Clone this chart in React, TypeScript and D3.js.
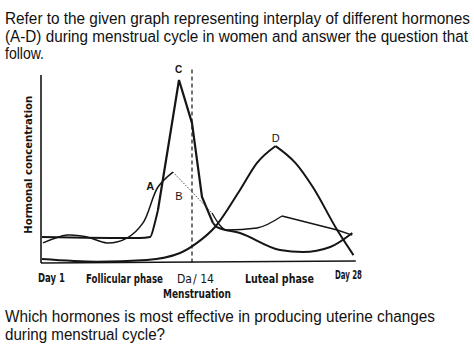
import React from "react";
import * as d3 from "d3";

// ---- Data (day, relative concentration) ----
const hormoneA: [number, number][] = [
  [1.17, 10.2], [3.24, 14.4], [4.96, 13.4], [6.68, 10.2], [8.4, 12.8],
  [9.78, 20.9], [11.07, 40.1], [12.36, 48.1],
];
const hormoneBDotted: [number, number][] = [
  [12.36, 48.1], [14.09, 36.9], [15.72, 26.2],
];
const hormoneBSolid: [number, number][] = [
  [15.72, 26.2], [17.0, 17.1], [19.6, 18.2], [21.75, 24.6],
];
const hormoneBTail: [number, number][] = [
  [21.75, 24.6], [26.5, 17.1], [27.8, 14.4],
];
const hormoneCFlat: [number, number][] = [
  [1.09, 13.4], [9.5, 12.8], [10.4, 13.4], [10.8, 20.9], [11.07, 27.8],
];
const hormoneCPeak: [number, number][] = [
  [11.07, 27.8], [12.88, 97.3], [14.0, 74.3], [14.86, 34.8], [15.8, 20.9],
];
const hormoneCTail: [number, number][] = [
  [15.8, 20.9], [16.15, 18.7], [18.13, 15.5], [21.58, 6.4], [23.56, 5.3],
  [25.9, 8.0], [27.8, 15.5],
];
const hormoneDRise: [number, number][] = [
  [1.09, 1.6], [5.8, 0.2], [10.1, 1.1], [12.97, 4.8], [14.43, 10.2],
  [15.98, 18.7], [18.13, 38.5], [19.6, 53], [21.2, 62.0],
];
const hormoneDFall: [number, number][] = [
  [21.2, 62.0], [22.9, 53], [24.4, 40.1], [26.5, 17.1], [27.9, 3.7],
];

// x labels: text, starting day, value (vertical position in data units)
const dayLabels = ["Day 1", "Follicular phase", "Da\u200a/ 14", "Luteal phase", "Day 28", "Menstruation"];
const dayLabelStart = [0.74, 4.87, 12.71, 18.56, 26.31, 11.5];
const dayLabelValue = [-10.7, -11.2, -11.2, -11.2, -9.1, -19.3];

const curveNames = ["C", "D", "A", "B"];
const curveNameDay = [12.85, 21.2, 10.4, 12.88];
const curveNameValue = [101, 64.2, 38.5, 33.2];
const curveNameWeight = [700, 400, 700, 400];

const titleLines = [
  "Refer to the given graph representing interplay of different hormones",
  "(A-D) during menstrual cycle in women and answer the question that",
  "follow.",
];
const questionLines = [
  "Which hormones is most effective in producing uterine changes",
  "during menstrual cycle?",
];

const W = 474;
const H = 348;
const titleWidths = [465, 463, 39];
const questionWidths = [430, 160];
const dayLabelWidths = [27, 77, 37, 69, 27, 68];

export default function App() {
  const x = d3.scaleLinear().domain([1, 14]).range([41, 192]);
  const y = d3.scaleLinear().domain([0, 100]).range([262, 75]);

  const smooth = d3
    .line<[number, number]>()
    .x((d) => x(d[0]))
    .y((d) => y(d[1]))
    .curve(d3.curveMonotoneX);
  const straight = d3
    .line<[number, number]>()
    .x((d) => x(d[0]))
    .y((d) => y(d[1]))
    .curve(d3.curveLinear);
  const catmull = d3
    .line<[number, number]>()
    .x((d) => x(d[0]))
    .y((d) => y(d[1]))
    .curve(d3.curveCatmullRom);

  const ink = "#151515";
  const condensed = "'DejaVu Sans', 'Liberation Sans', Arial, sans-serif";
  const arial = "'Liberation Sans', Arial, Helvetica, sans-serif";

  return (
    <svg
      width={W}
      height={H}
      viewBox={`0 0 ${W} ${H}`}
      style={{ position: "absolute", left: 0, top: 0, background: "#fff" }}
    >
      <rect x={0} y={0} width={W} height={H} fill="#fff" />
      {titleLines.map((t, i) => (
        <text
          key={t}
          x={5}
          y={24 + i * 17.5}
          fontFamily={arial}
          fontSize={16}
          textLength={titleWidths[i]}
          lengthAdjust="spacingAndGlyphs"
          fill="#111"
        >
          {t}
        </text>
      ))}

      {/* axes */}
      <line x1={x(1)} x2={x(1)} y1={y(100)} y2={y(-0.5)} stroke={ink} strokeWidth={1.6} />
      <line x1={x(1)} x2={x(28.1)} y1={y(-0.5)} y2={y(0.5)} stroke={ink} strokeWidth={1.6} />

      {/* day 14 marker */}
      <line
        x1={x(14)}
        x2={x(14)}
        y1={y(103)}
        y2={y(-0.5)}
        stroke={ink}
        strokeWidth={1.2}
        strokeDasharray="4,3"
      />

      {/* hormone D */}
      <path d={smooth(hormoneDRise)!} fill="none" stroke={ink} strokeWidth={2} />
      <path d={smooth(hormoneDFall)!} fill="none" stroke={ink} strokeWidth={2} />

      {/* hormone C */}
      <path d={smooth(hormoneCFlat)!} fill="none" stroke={ink} strokeWidth={2} />
      <path d={straight(hormoneCPeak)!} fill="none" stroke={ink} strokeWidth={2.2} strokeLinejoin="miter" />
      <path d={smooth(hormoneCTail)!} fill="none" stroke={ink} strokeWidth={2} />

      {/* hormone A */}
      <path d={catmull(hormoneA)!} fill="none" stroke={ink} strokeWidth={1.5} />

      {/* hormone B */}
      <path d={straight(hormoneBDotted)!} fill="none" stroke="#444" strokeWidth={1} strokeDasharray="1.5,1.5" />
      <path d={smooth(hormoneBSolid)!} fill="none" stroke={ink} strokeWidth={1.4} />
      <path d={straight(hormoneBTail)!} fill="none" stroke={ink} strokeWidth={1.4} />

      {/* curve labels */}
      {curveNames.map((c, i) => (
        <text
          key={c}
          x={x(curveNameDay[i])}
          y={y(curveNameValue[i])}
          textAnchor="middle"
          fontFamily={arial}
          fontSize={i === 0 ? 10 : 11}
          fontWeight={curveNameWeight[i]}
          fill={ink}
        >
          {c}
        </text>
      ))}

      {/* y-axis title */}
      <text
        transform={`translate(32, ${y(52)}) rotate(-90)`}
        textAnchor="middle"
        fontFamily={condensed}
        fontSize={10.5}
        fontWeight={700}
        textLength={138}
        lengthAdjust="spacingAndGlyphs"
        fill={ink}
      >
        Hormonal concentration
      </text>

      {/* x labels */}
      {dayLabels.map((t, i) => (
        <text
          key={t}
          x={x(dayLabelStart[i])}
          y={y(dayLabelValue[i])}
          fontFamily={condensed}
          fontSize={11.5}
          fontWeight={i === 2 ? 400 : 700}
          textLength={dayLabelWidths[i]}
          lengthAdjust="spacingAndGlyphs"
          fill={ink}
        >
          {t}
        </text>
      ))}

      {questionLines.map((t, i) => (
        <text
          key={t}
          x={5}
          y={322 + i * 17.5}
          fontFamily={arial}
          fontSize={16}
          textLength={questionWidths[i]}
          lengthAdjust="spacingAndGlyphs"
          fill="#111"
        >
          {t}
        </text>
      ))}
    </svg>
  );
}
